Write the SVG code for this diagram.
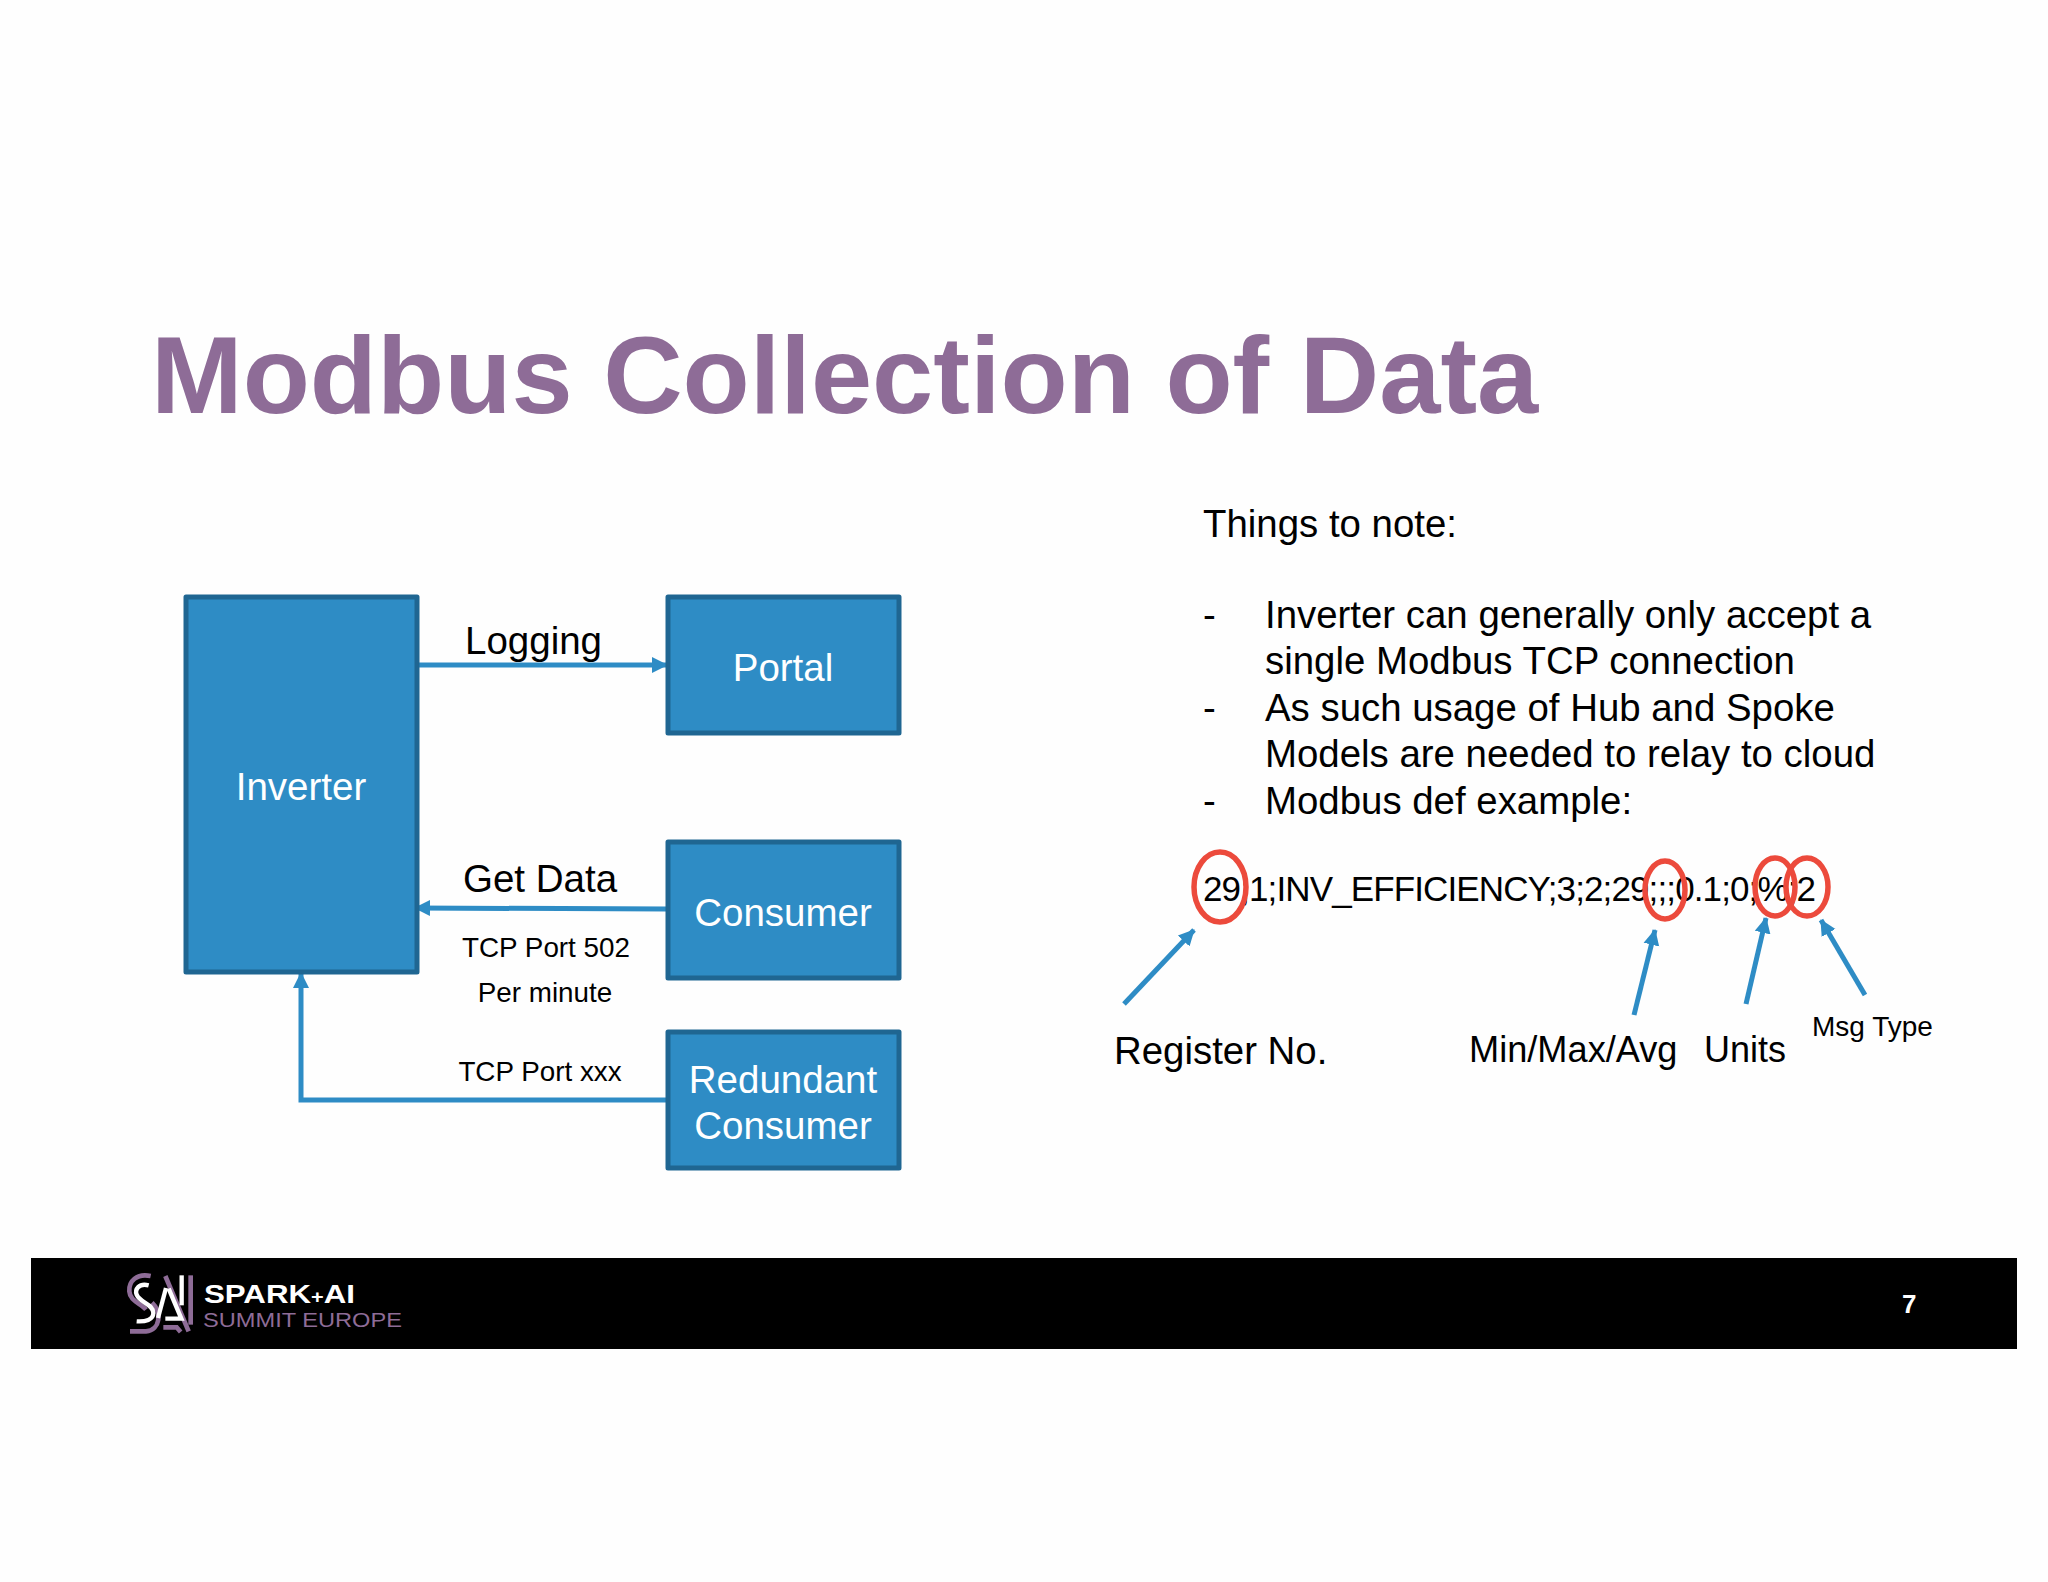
<svg xmlns="http://www.w3.org/2000/svg" width="2048" height="1582" viewBox="0 0 2048 1582">
<style>
text{font-family:"Liberation Sans",Arial,sans-serif;fill:#000}
.box{fill:#2e8cc5;stroke:#1f6692;stroke-width:5;stroke-linejoin:round}
.bl{fill:#fff;font-size:38.5px;text-anchor:middle}
.t39{font-size:38.5px}
.t28{font-size:27.8px;text-anchor:middle}
.note{font-size:38.4px}
.line{fill:none;stroke:#2e8cc5;stroke-width:5}
.ring{fill:none;stroke:#ec4a3c;stroke-width:5.5}
.arrow{fill:none;stroke:#2e8cc5;stroke-width:5}
.p{fill:none;stroke:#8e6c97;stroke-width:14}
.w{fill:none;stroke:#fff;stroke-width:13}
</style>
<defs>
<marker id="ah" markerUnits="userSpaceOnUse" markerWidth="18" markerHeight="18" refX="15" refY="9" orient="auto"><path d="M0 1L16 9L0 17Z" fill="#2e8cc5"/></marker>
</defs>
<rect width="2048" height="1582" fill="#fefefe"/>
<text x="151" y="413" style="font-size:110px;font-weight:700;fill:#8e6c97">Modbus Collection of Data</text>

<g id="connectors">
<path class="line" d="M418 665H667" marker-end="url(#ah)"/>
<path class="line" d="M667 909L415 908" marker-end="url(#ah)"/>
<path class="line" d="M667 1100H301V973" marker-end="url(#ah)"/>
<path class="arrow" d="M1124 1004L1194 930" marker-end="url(#ah)"/>
<path class="arrow" d="M1634 1015L1655 930" marker-end="url(#ah)"/>
<path class="arrow" d="M1746 1004L1766 918" marker-end="url(#ah)"/>
<path class="arrow" d="M1865 995L1821 920" marker-end="url(#ah)"/>
</g>

<g id="inverter"><rect class="box" x="186" y="597" width="231" height="375"/><text class="bl" x="301" y="800">Inverter</text></g>
<g id="portal"><rect class="box" x="668" y="597" width="231" height="136"/><text class="bl" x="783" y="681">Portal</text></g>
<g id="consumer"><rect class="box" x="668" y="842" width="231" height="136"/><text class="bl" x="783" y="926">Consumer</text></g>
<g id="redundant"><rect class="box" x="668" y="1032" width="231" height="136"/><text class="bl" x="783" y="1093">Redundant</text><text class="bl" x="783" y="1139">Consumer</text></g>

<g id="edge-labels">
<text class="t39" x="465" y="654">Logging</text>
<text class="t39" x="463" y="892">Get Data</text>
<text class="t28" x="546" y="957">TCP Port 502</text>
<text class="t28" x="545" y="1002">Per minute</text>
<text class="t28" x="540" y="1081">TCP Port xxx</text>
</g>

<g id="notes">
<text class="note" x="1203" y="537">Things to note:</text>
<text class="note" x="1203" y="628">-</text><text class="note" x="1265" y="628">Inverter can generally only accept a</text>
<text class="note" x="1265" y="674">single Modbus TCP connection</text>
<text class="note" x="1203" y="721">-</text><text class="note" x="1265" y="721">As such usage of Hub and Spoke</text>
<text class="note" x="1265" y="767">Models are needed to relay to cloud</text>
<text class="note" x="1203" y="814">-</text><text class="note" x="1265" y="814">Modbus def example:</text>
</g>

<g id="modbus-example">
<text x="1203" y="901" style="font-size:35px" textLength="613" lengthAdjust="spacing">29;1;INV_EFFICIENCY;3;2;29;;;0.1;0;%;2</text>
<ellipse class="ring" cx="1220" cy="887" rx="26" ry="35"/>
<ellipse class="ring" cx="1665" cy="890" rx="20" ry="29"/>
<ellipse class="ring" cx="1775" cy="887" rx="20" ry="29"/>
<ellipse class="ring" cx="1807" cy="887" rx="21" ry="29"/>
</g>

<g id="callouts">
<text x="1114" y="1064" style="font-size:38.4px">Register No.</text>
<text x="1469" y="1062" style="font-size:36.2px">Min/Max/Avg</text>
<text x="1704" y="1062" style="font-size:36px">Units</text>
<text x="1812" y="1036" style="font-size:28px">Msg Type</text>
</g>

<g id="footer">
<rect x="31" y="1258" width="1986" height="91" fill="#000"/>
<g id="logo" transform="translate(120 1268) scale(.3333)">
<path class="p" d="M92 24C50 15 26 40 28 70C30 100 62 105 78 125"/>
<path class="p" d="M30 190H78C122 186 126 132 96 104"/>
<path class="w" d="M86 52C56 44 44 65 50 80C60 105 100 108 100 135C100 155 76 162 50 160"/>
<path class="p" d="M136 24L206 190"/>
<path class="p" d="M212 22V170"/>
<path class="p" d="M130 178H170L182 192"/>
<path class="w" d="M138 60L114 150"/>
<path class="w" d="M146 62L184 152H136"/>
<path class="w" d="M185 22V112"/>
</g>
<text x="204" y="1303" style="font-size:26px;font-weight:700;fill:#fff" textLength="151" lengthAdjust="spacingAndGlyphs">SPARK<tspan style="font-size:18px;fill:#fff">+</tspan>AI</text>
<text x="203" y="1327" style="font-size:20px;fill:#8e6c97" textLength="199" lengthAdjust="spacingAndGlyphs">SUMMIT EUROPE</text>
<text x="1902" y="1313" style="font-size:26px;font-weight:700;fill:#fff">7</text>
</g>
</svg>
